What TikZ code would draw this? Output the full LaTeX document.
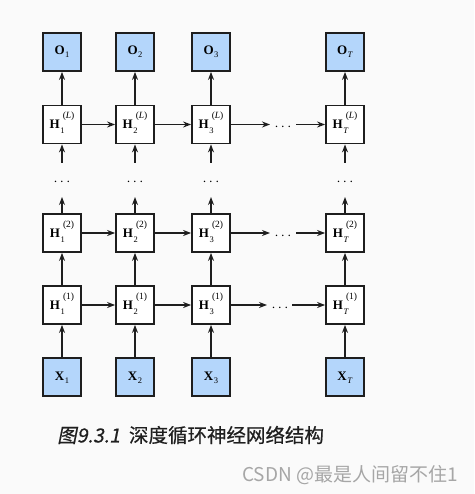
\documentclass[tikz,border=0pt]{standalone}
\usepackage{fontspec}
\setmainfont{Liberation Serif}
\usetikzlibrary{arrows.meta}
\newfontfamily\cjk{Noto Sans CJK SC}[AutoFakeSlant=0.2]
\newfontfamily\cjkcap{Noto Sans CJK SC}[AutoFakeSlant=0.2,FakeBold=0.5]
\definecolor{boxblue}{HTML}{B4D6FB}
\definecolor{bordc}{HTML}{1E1E1E}
\definecolor{bgc}{HTML}{FAFAFA}
\newcommand{\supf}{\fontsize{9.5}{9.5}\selectfont}
\newcommand{\subf}{\fontsize{8.5}{8.5}\selectfont}
\newcommand{\hlab}[2]{{\bfseries H}\kern0.6pt\rlap{\raisebox{-5pt}{\subf #1}}\kern2.4pt\raisebox{10pt}{\supf(#2)}}
\newcommand{\iolab}[2]{{\bfseries #1}\kern0.6pt\raisebox{-3pt}{\subf #2}}
\begin{document}
\begin{tikzpicture}[x=1pt,y=-1pt,
  cell/.style={draw=bordc,line width=1.8pt,minimum size=38pt,inner sep=0pt,fill=white,
    font=\fontsize{13}{14}\selectfont,text height=13.5pt,text depth=4.5pt},
  io/.style={cell,fill=boxblue,text height=11pt,text depth=5pt},
  arr/.style={line width=1.3pt,draw=bordc,-{Stealth[length=8pt,width=6pt]}},
  dots/.style={inner sep=0pt,font=\fontsize{15}{17}\selectfont}]
\fill[bgc] (0,0) rectangle (474,494);
\useasboundingbox (0,0) rectangle (474,494);
% columns
\foreach \i/\x/\s in {1/62/1,2/135/2,3/211/3,T/345/\textit{T}}{
  \node[io]   (O\i)  at (\x,52)  {\iolab{O}{\s}};
  \node[cell] (L\i)  at (\x,124.5) {\hlab{\s}{\textit{L}}};
  \node[dots] (d\i)  at (\x,182.5) {$\cdots$};
  \coordinate (a\i) at (\x,163);
  \coordinate (b\i) at (\x,197);
  \node[cell] (M\i)  at (\x,233) {\hlab{\s}{2}};
  \node[cell] (N\i)  at (\x,305) {\hlab{\s}{1}};
  \node[io]   (X\i)  at (\x,377) {\iolab{X}{\s}};
  \draw[arr] (L\i) -- (O\i);
  \draw[arr] (a\i) -- (L\i);
  \draw[arr] (M\i) -- (b\i);
  \draw[arr] (N\i) -- (M\i);
  \draw[arr] (X\i) -- (N\i);
}
% horizontal
\foreach \r/\y/\e/\dx/\s in {L/124.5/270/283/296,M/233/270/283/296,N/305/267/280/292}{
  \draw[arr] (\r1) -- (\r2);
  \draw[arr] (\r2) -- (\r3);
  \coordinate (e\r) at (\e,\y);
  \node[dots] (h\r) at (\dx,\y+3) {$\cdots$};
  \coordinate (s\r) at (\s,\y);
  \draw[arr] (\r3) -- (e\r);
  \draw[arr] (s\r) -- (\r T);
}
\node[anchor=west,inner sep=0pt,text=black!88,font=\cjkcap\fontsize{19.5}{22}\selectfont] (cap) at (57,435) {{\itshape 图9.3.1}\hspace{9pt}深度循环神经网络结构};
\node[anchor=east,inner sep=0pt,text=black!35,font=\cjk\fontsize{19}{20}\selectfont] (wm) at (458,475) {CSDN @最是人间留不住1};
\end{tikzpicture}
\end{document}
